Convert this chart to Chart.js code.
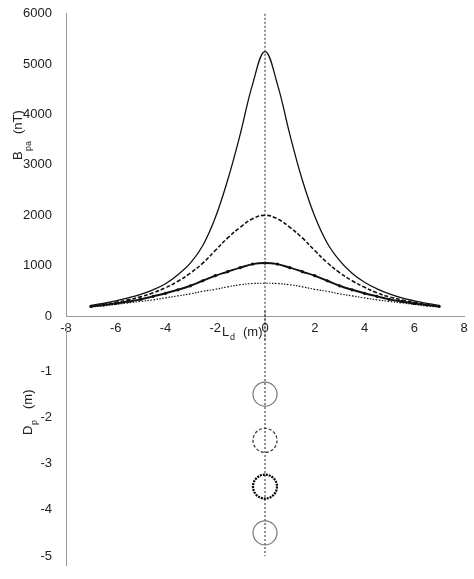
<!DOCTYPE html>
<html lang="en">
  <head>
    <meta charset="UTF-8" />
    <title>Bpa</title>
    <script src="https://cdn.jsdelivr.net/npm/chart.js"></script>
    <style>
      body { margin: 0; background: #fff; }
      #wrap { position: relative; width: 474px; height: 579px; }
      #top { position: absolute; left: 0; top: 0; }
      #bot { position: absolute; left: 0; top: 311px; }
    </style>
  </head>
  <body>
    <div id="wrap">
      <canvas id="top" width="474" height="340"></canvas>
      <canvas id="bot" width="474" height="268"></canvas>
    </div>

    <script>
      const xs = [-7, -6.5, -6, -5.5, -5, -4.5, -4, -3.5, -3, -2.5, -2, -1.5, -1, -0.5, 0,
                  0.5, 1, 1.5, 2, 2.5, 3, 3.5, 4, 4.5, 5, 5.5, 6, 6.5, 7];
      const solid = [210, 250, 300, 360, 430, 520, 640, 820, 1050, 1400, 1950, 2700, 3600, 4600, 5250,
                     4600, 3600, 2700, 1980, 1450, 1100, 850, 670, 540, 440, 360, 300, 250, 210];
      const dashed = [200, 230, 270, 320, 380, 460, 560, 690, 850, 1050, 1300, 1550, 1760, 1930, 2000,
                      1930, 1760, 1550, 1300, 1060, 860, 700, 570, 460, 380, 320, 270, 230, 200];
      const marked = [190, 220, 250, 290, 330, 390, 450, 520, 600, 700, 800, 880, 960, 1030, 1050,
                      1030, 960, 880, 800, 700, 600, 520, 450, 390, 330, 290, 250, 220, 190];
      const dotted = [180, 200, 230, 260, 290, 320, 360, 400, 440, 490, 530, 580, 620, 645, 650,
                      645, 620, 580, 530, 490, 440, 400, 360, 320, 290, 260, 230, 200, 180];
      const depthTicks = [-5, -4, -3, -2, -1];
      const depths = [-1.5, -2.5, -3.5, -4.5];
      const circleStyle = [
        { color: "#777", width: 1.2, dash: [] },
        { color: "#333", width: 1.2, dash: [3, 2] },
        { color: "#000", width: 2.2, dash: [2, 1] },
        { color: "#777", width: 1.2, dash: [] },
      ];

      const font = { family: "Liberation Sans", size: 13 };
      const pts = arr => arr.map((v, i) => ({ x: xs[i], y: v }));

      const centerLine = {
        id: "centerLine",
        afterDatasetsDraw(chart) {
          const ctx = chart.ctx, a = chart.chartArea;
          const px = chart.scales.x.getPixelForValue(0);
          ctx.save();
          ctx.strokeStyle = "#222";
          ctx.lineWidth = 1;
          ctx.setLineDash([2, 2]);
          ctx.beginPath();
          ctx.moveTo(px, chart.canvas.id === "bot" ? 0 : a.top);
          ctx.lineTo(px, chart.canvas.id === "bot" ? chart.scales.y.getPixelForValue(-5) : chart.canvas.height);
          ctx.stroke();
          ctx.restore();
        },
      };

      const labels = {
        id: "labels",
        afterDraw(chart) {
          const ctx = chart.ctx;
          ctx.save();
          ctx.fillStyle = "#222";
          ctx.font = "13px Liberation Sans";
          if (chart.canvas.id === "top") {
            ctx.save();
            ctx.translate(22, 160);
            ctx.rotate(-Math.PI / 2);
            ctx.fillText("B", 0, 0);
            ctx.font = "9px Liberation Sans";
            ctx.fillText("pa", 9, 9);
            ctx.font = "13px Liberation Sans";
            ctx.fillText("(nT)", 26, 0);
            ctx.restore();
            ctx.fillText("L", 222, 336);
            ctx.font = "9px Liberation Sans";
            ctx.fillText("d", 230, 340);
            ctx.font = "13px Liberation Sans";
            ctx.fillText("(m)", 243, 336);
          } else {
            ctx.translate(32, 124);
            ctx.rotate(-Math.PI / 2);
            ctx.fillText("D", 0, 0);
            ctx.font = "9px Liberation Sans";
            ctx.fillText("p", 10, 5);
            ctx.font = "13px Liberation Sans";
            ctx.fillText("(m)", 26, 0);
          }
          ctx.restore();
        },
      };

      const circles = {
        id: "circles",
        afterDatasetsDraw(chart) {
          const ctx = chart.ctx;
          const px = chart.scales.x.getPixelForValue(0);
          depths.forEach((d, i) => {
            const s = circleStyle[i];
            ctx.save();
            ctx.strokeStyle = s.color;
            ctx.lineWidth = s.width;
            ctx.setLineDash(s.dash);
            ctx.beginPath();
            ctx.arc(px, chart.scales.y.getPixelForValue(d), 12, 0, Math.PI * 2);
            ctx.stroke();
            ctx.restore();
          });
        },
      };

      const line = (data, opts) => Object.assign({
        data: pts(data), borderColor: "#111", borderWidth: 1.3, pointRadius: 0,
        tension: 0.4, fill: false,
      }, opts);

      new Chart(document.getElementById("top"), {
        type: "line",
        data: {
          datasets: [
            line(solid, {}),
            line(dashed, { borderDash: [4, 2], borderWidth: 1.6 }),
            line(marked, { borderWidth: 2, pointRadius: 1.6, pointBackgroundColor: "#111", pointBorderWidth: 0 }),
            line(dotted, { borderDash: [1.5, 1.5], borderWidth: 1.2 }),
          ],
        },
        options: {
          responsive: false,
          animation: false,
          layout: { padding: { top: 5, right: 10 } },
          plugins: { legend: { display: false }, tooltip: { enabled: false } },
          scales: {
            x: {
              type: "linear", min: -8, max: 8,
              ticks: { stepSize: 2, color: "#222", font, padding: 2 },
              grid: { display: false, drawTicks: true, tickLength: 3 },
              border: { color: "#999" },
              afterFit: s => { s.height = 24; },
            },
            y: {
              min: 0, max: 6000,
              ticks: { stepSize: 1000, color: "#222", font, padding: 6, callback: v => String(v) },
              grid: { display: false },
              border: { color: "#999" },
              afterFit: s => { s.width = 66; },
            },
          },
        },
        plugins: [centerLine, labels],
      });

      new Chart(document.getElementById("bot"), {
        type: "scatter",
        data: { datasets: [{ data: [] }] },
        options: {
          responsive: false,
          animation: false,
          layout: { padding: { top: 0, right: 10, bottom: 4 } },
          plugins: { legend: { display: false }, tooltip: { enabled: false } },
          scales: {
            x: { type: "linear", min: -8, max: 8, display: false },
            y: {
              min: -5.2, max: 0,
              afterBuildTicks: s => { s.ticks = depthTicks.map(v => ({ value: v })); },
              ticks: { color: "#222", font, padding: 6, callback: v => String(v) },
              grid: { display: false },
              border: { color: "#999" },
              afterFit: s => { s.width = 66; },
            },
          },
        },
        plugins: [centerLine, circles, labels],
      });
    </script>
  </body>
</html>
